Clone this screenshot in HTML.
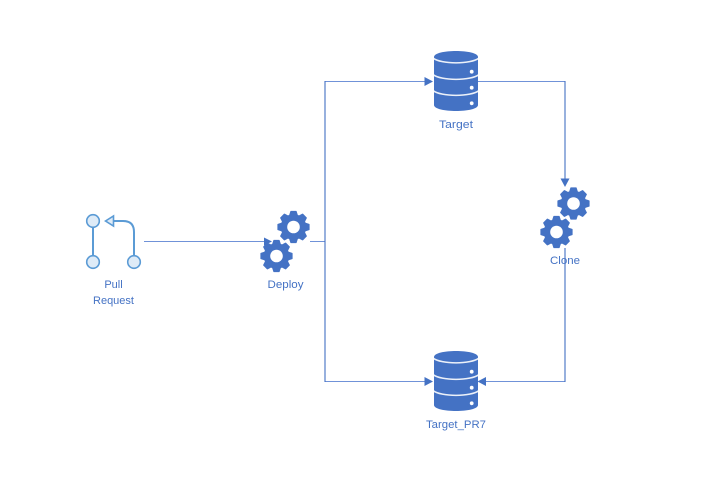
<!DOCTYPE html>
<html><head><meta charset="utf-8"><style>
html,body{margin:0;padding:0;background:#fff;width:717px;height:493px;overflow:hidden}
svg{display:block}
text{font-family:"Liberation Sans",sans-serif;font-size:11px;fill:#4472c4;text-anchor:middle}
</style></head><body>
<svg width="717" height="493" viewBox="0 0 717 493" xmlns="http://www.w3.org/2000/svg">
<defs>
<path id="tooth" d="M10.5 -4.200L15.500 -2.600L15.500 2.600L10.500 4.200Z" fill="#4472c4" stroke="#4472c4" stroke-width="1.200" stroke-linejoin="round"/>
<g id="gear">
<circle r="12.800" fill="#4472c4"/>
<use href="#tooth"/>
<use href="#tooth" transform="rotate(45)"/>
<use href="#tooth" transform="rotate(90)"/>
<use href="#tooth" transform="rotate(135)"/>
<use href="#tooth" transform="rotate(180)"/>
<use href="#tooth" transform="rotate(225)"/>
<use href="#tooth" transform="rotate(270)"/>
<use href="#tooth" transform="rotate(315)"/>
<circle r="6.300" fill="#fff"/>
</g>
<g id="db">
<path d="M-22 -24C-22 -32 22 -32 22 -24V24C22 32 -22 32 -22 24Z" fill="#4472c4"/>
<g fill="none" stroke="#fff" stroke-width="1.500" opacity=".9">
<path d="M-23 -23C-15 -16.500 15 -16.500 23 -23"/>
<path d="M-23 -6.500C-15 0 15 0 23 -6.500"/>
<path d="M-23 9.500C-15 16 15 16 23 9.500"/>
</g>
<circle cx="15.700" cy="-9.300" r="1.900" fill="#fff"/>
<circle cx="15.700" cy="6.700" r="1.900" fill="#fff"/>
<circle cx="15.700" cy="22.300" r="1.900" fill="#fff"/>
</g>
</defs>

<g fill="none" stroke="#7092d8" stroke-width="1">
<path d="M144 241.500H268"/>
<path d="M310 241.500H325"/>
<path d="M325 81.500H426"/>
<path d="M325 381.500H426"/>
<path d="M478 81.500H565"/>
<path d="M565 381.500H486"/>
</g>
<g fill="none" stroke="#4472c4" stroke-width="1.300" opacity=".85">
<path d="M325 81V382"/>
<path d="M565 81V180"/>
<path d="M565 248V382"/>
</g>
<g fill="#4472c4">
<path d="M264 237.500L272 241.500L264 245.500Z"/>
<path d="M424.500 77L433 81.500L424.500 86Z"/>
<path d="M424.500 377L433 381.500L424.500 386Z"/>
<path d="M486 377L477.500 381.500L486 386Z"/>
<path d="M560.500 178.500L565 187L569.500 178.500Z"/>
</g>

<g fill="none" stroke="#5b9bd5" stroke-width="2">
<path d="M93 227V256"/>
<path d="M134 255V232Q134 221 123 221H113"/>
</g>
<g fill="#deebf7" stroke="#5b9bd5" stroke-width="1.600">
<circle cx="93" cy="221" r="6.300"/>
<circle cx="93" cy="262" r="6.300"/>
<circle cx="134" cy="262" r="6.300"/>
<path d="M105.500 221L113.500 216V226Z"/>
</g>
<text x="113.500" y="288">Pull</text>
<text x="113.500" y="304" textLength="41" lengthAdjust="spacingAndGlyphs">Request</text>

<use href="#gear" x="293.500" y="227"/>
<use href="#gear" x="276.500" y="256"/>
<text x="285.500" y="288" textLength="36" lengthAdjust="spacingAndGlyphs">Deploy</text>

<use href="#db" x="456" y="81"/>
<text x="456" y="128" textLength="34" lengthAdjust="spacingAndGlyphs">Target</text>

<use href="#gear" x="573.500" y="203.500"/>
<use href="#gear" x="556.500" y="232"/>
<text x="565" y="264" textLength="30" lengthAdjust="spacingAndGlyphs">Clone</text>

<use href="#db" x="456" y="381"/>
<text x="456" y="428" textLength="60" lengthAdjust="spacingAndGlyphs">Target_PR7</text>
</svg>
</body></html>
